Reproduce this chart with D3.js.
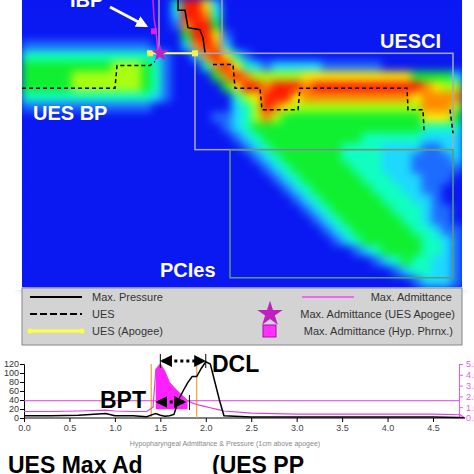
<!DOCTYPE html><html><head><meta charset="utf-8">
<script src="https://cdn.jsdelivr.net/npm/d3@7"></script>
<style>body{margin:0;background:#fff}svg{display:block}text{font-family:Arial,"Liberation Sans",sans-serif}</style></head><body>
<svg id="c" width="474" height="474"></svg>
<script>
// Heatmap levels (0 blue .. 8 red), 44 columns x 28 rows
const heatRows = [
"000000000000000388620",
"000000000000000288730",
"000000000000000178840",
"0000000000000000488610",
"1111111111111000278720",
"333333333333321002786310",
"44444444455543100037863212222211111100000000",
"44444555555543100004787555556666666666644442",
"44444555555543100000468878887888888888887655",
"33333333333332100000035688867777777777767777",
"11111111111110000000023587655555555555557775",
"00000000000000000001123575444444444444446664",
"00000000000000000000123444444444444444443333",
"00000000000000000000012344444444443333332222",
"00000000000000000000001234444444333322221122",
"00000000000000000000000123444444333322211112",
"00000000000000000000000012344444433322211111",
"00000000000000000000000001234444443332221110",
"00000000000000000000000000123444444333221100",
"00000000000000000000000000012344444433322100",
"00000000000000000000000000001234444443332110",
"00000000000000000000000000000123444444332110",
"00000000000000000000000000000012344444433211",
"00000000000000000000000000000001234444443321",
"00000000000000000000000000000000012344443321",
"00000000000000000000000000000000000123433221",
"00000000000000000000000000000000000001233221",
"00000000000000000000000000000000000000012221"];
const heatColors = ["#0a18f2","#1e6cff","#1ed8ff","#10ffc0","#10f030","#a8ff10","#ffee00","#ff8a00","#ff1a00"];
// overlay lines in heatmap units (col,row)
const maxPressure = [[15.6,0],[15.6,1],[16.3,1],[16.6,2.7],[17.8,2.9],[18.1,3.7],[18.3,5.1]];
const uesLeft = [[0,8.6],[9.3,8.6],[9.5,6.4],[12.8,6.4],[13.3,6.0]];
const uesRight = [[19.1,6.3],[21.1,6.3],[21.3,8.6],[23.8,8.6],[24,10.7],[27.6,10.7],[27.8,8.6],[38.5,8.6],[38.6,10.7],[40.1,10.7],[40.2,12.7]];
const uesRight2 = [[42.8,10.7],[43.1,13]];
const apogee = [[12.8,5.2],[17.3,5.2]];
const admitLine = [[13.1,0],[13.2,1.8],[13.4,3],[13.6,5.2]];
// bottom chart
const xs =   [0,0.3,0.6,0.9,1.0,1.2,1.35,1.42,1.45,1.5,1.55,1.6,1.65,1.7,1.75,1.8,1.85,1.9,1.95,2.0,2.05,2.1,2.15,2.2,2.5,3.0,3.5,4.0,4.5,4.8,4.85];
const press =[5,5,6,10,5,5,3,8,10,6,4,5,8,40,60,78,92,92,110,125,120,80,40,5,2,2,2,2,2,1,0];
const admit =[0.6,0.6,0.65,0.72,0.65,0.6,0.6,1.0,4.5,5.0,4.3,3.3,2.8,2.4,2.0,1.6,1.4,1.25,1.15,1.05,0.95,0.85,0.75,0.65,0.45,0.35,0.35,0.35,0.35,0.3,0];
const xTicks=[0,0.5,1,1.5,2,2.5,3,3.5,4,4.5], yTicks=[0,20,40,60,80,100,120], y2Ticks=[0,1,2,3,4,5];

const svg=d3.select("#c");
const defs=svg.append("defs");
const hx=d3.scaleLinear([0,44],[22,462]), hy=d3.scaleLinear([0,28],[0,287]);
const cells=[];
heatRows.forEach((r,ri)=>{const s=r.padEnd(44,"0");for(let c=0;c<44;c++)cells.push({c,r:ri,v:+s[c]});});
svg.append("rect").attr("x",22).attr("y",0).attr("width",440).attr("height",287).attr("fill",heatColors[0]);
const hg=svg.append("g").attr("style","filter:blur(4px)");
hg.selectAll("rect").data(cells).join("rect").attr("x",d=>hx(d.c)-0.5).attr("y",d=>hy(d.r)-0.5)
 .attr("width",hx(1)-hx(0)+1).attr("height",hy(1)-hy(0)+1).attr("fill",d=>heatColors[d.v]);
svg.append("rect").attr("x",0).attr("y",0).attr("width",22).attr("height",290).attr("fill","#fff");
svg.append("rect").attr("x",462).attr("y",0).attr("width",12).attr("height",290).attr("fill","#fff");
const L=d3.line().x(d=>hx(d[0])).y(d=>hy(d[1]));
// boxes
svg.append("line").attr("x1",159).attr("x2",159).attr("y1",0).attr("y2",hy(5.2)).attr("stroke","#c090d0").attr("stroke-width",1.5);
svg.append("line").attr("x1",222).attr("x2",222).attr("y1",0).attr("y2",hy(5.2)).attr("stroke","#a0a0b0").attr("stroke-width",1.5);
svg.append("rect").attr("x",hx(17.3)).attr("y",hy(5.2)).attr("width",hx(43.1)-hx(17.3)).attr("height",hy(14.6)-hy(5.2)).attr("fill","none").attr("stroke","#a8a8b8").attr("stroke-width",1.5);
svg.append("rect").attr("x",hx(20.8)).attr("y",hy(14.6)).attr("width",hx(43.1)-hx(20.8)).attr("height",hy(27.1)-hy(14.6)).attr("fill","none").attr("stroke","#5a9a80").attr("stroke-width",1.5);
svg.append("path").attr("d",L(maxPressure)).attr("fill","none").attr("stroke","#000").attr("stroke-width",1.5);
[uesLeft,uesRight,uesRight2].forEach(a=>svg.append("path").attr("d",L(a)).attr("fill","none").attr("stroke","#000").attr("stroke-width",1.5).attr("stroke-dasharray","4,3"));
svg.append("path").attr("d",L(apogee)).attr("stroke","#ffff60").attr("stroke-width",2);
apogee.forEach(p=>svg.append("rect").attr("x",hx(p[0])-3).attr("y",hy(p[1])-3).attr("width",6).attr("height",6).attr("fill","#f0f060"));
svg.append("path").attr("d",L(admitLine)).attr("fill","none").attr("stroke","#e020e0").attr("stroke-width",1.5);
svg.append("rect").attr("x",hx(13.2)-3).attr("y",hy(3.05)-3).attr("width",6).attr("height",6).attr("fill","#e020e0");
svg.append("path").attr("d",d3.symbol(d3.symbolStar,90)()).attr("transform",`translate(${hx(13.8)},${hy(5.2)})`).attr("fill","#c020c0");
// labels
const big=(t,x,y,sz,anchor)=>svg.append("text").attr("x",x).attr("y",y).attr("font-size",sz).attr("font-weight","bold").attr("text-anchor",anchor||"start").text(t);
big("IBP",70,7,20).attr("fill","#fff");
big("UESCI",380,48,20).attr("fill","#fff");
big("UES BP",33,120,20).attr("fill","#fff");
big("PCIes",160,277,20).attr("fill","#fff");
defs.append("marker").attr("id","wa").attr("viewBox","0 0 10 10").attr("refX",8).attr("refY",5).attr("markerWidth",4).attr("markerHeight",4).attr("orient","auto").append("path").attr("d","M0,0L10,5L0,10z").attr("fill","#fff");
svg.append("line").attr("x1",110).attr("y1",7).attr("x2",146).attr("y2",26).attr("stroke","#fff").attr("stroke-width",3).attr("marker-end","url(#wa)");
// legend
svg.append("rect").attr("x",22).attr("y",288).attr("width",440).attr("height",57).attr("fill","#d3d3d3").attr("stroke","#888");
const lt=(t,x,y,a)=>svg.append("text").attr("x",x).attr("y",y).attr("font-size",11).attr("fill","#333").attr("text-anchor",a||"start").text(t);
svg.append("line").attr("x1",30).attr("x2",82).attr("y1",297).attr("y2",297).attr("stroke","#000").attr("stroke-width",2);
svg.append("line").attr("x1",30).attr("x2",82).attr("y1",314).attr("y2",314).attr("stroke","#000").attr("stroke-width",2).attr("stroke-dasharray","7,3");
svg.append("line").attr("x1",30).attr("x2",82).attr("y1",331).attr("y2",331).attr("stroke","#ffff40").attr("stroke-width",3);
[30,82].forEach(x=>svg.append("circle").attr("cx",x).attr("cy",331).attr("r",2.5).attr("fill","#ffff40"));
lt("Max. Pressure",92,301);lt("UES",92,318);lt("UES (Apogee)",92,335);
svg.append("line").attr("x1",302).attr("x2",354).attr("y1",297).attr("y2",297).attr("stroke","#ff40ff").attr("stroke-width",1.5);
svg.append("path").attr("d",d3.symbol(d3.symbolStar,200)()).attr("transform","translate(270,314)").attr("fill","#c020c0");
svg.append("rect").attr("x",263).attr("y",325).attr("width",13).attr("height",12).attr("fill","#ff30ff").attr("stroke","#a010a0");
lt("Max. Admittance",452,301,"end");lt("Max. Admittance (UES Apogee)",455,318,"end");lt("Max. Admittance (Hyp. Phrnx.)",453,335,"end");
// bottom chart
const bx=d3.scaleLinear([0,4.5],[24,433]), by=d3.scaleLinear([0,120],[418,364]), by2=d3.scaleLinear([0,5],[418,364]);
const g=svg.append("g");
g.append("g").attr("transform","translate(0,418)").call(d3.axisBottom(bx).tickValues(xTicks).tickFormat(d3.format(".1f")).tickSize(4)).call(a=>{a.select(".domain").attr("d","M24,0H461");a.selectAll("text").attr("font-size",9).attr("fill","#444");});
g.append("g").attr("transform","translate(24,0)").call(d3.axisLeft(by).tickValues(yTicks).tickSize(4).tickPadding(1)).call(a=>a.selectAll("text").attr("font-size",9).attr("fill","#333"));
g.append("g").attr("transform","translate(459,0)").call(d3.axisRight(by2).tickValues(y2Ticks).tickSize(4)).call(a=>{a.selectAll("line,path").attr("stroke","#e060e0");a.selectAll("text").attr("font-size",9).attr("fill","#e060e0");});
svg.append("text").attr("x",225).attr("y",446).attr("font-size",7).attr("fill","#888").attr("text-anchor","middle").text("Hypopharyngeal Admittance & Pressure (1cm above apogee)");
const fillPts=xs.map((x,i)=>[x,admit[i]]).filter(d=>d[0]>=1.43&&d[0]<=1.8);
svg.append("path").attr("d",d3.area().x(d=>bx(d[0])).y0(by2(0.8)).y1(d=>by2(d[1]))(fillPts)).attr("fill","#ff20ff");
[1.4,1.9].forEach(v=>svg.append("line").attr("x1",bx(v)).attr("x2",bx(v)).attr("y1",364).attr("y2",418).attr("stroke","#f0a030").attr("stroke-width",1.2));
svg.append("line").attr("x1",24).attr("x2",459).attr("y1",by2(1.6)).attr("y2",by2(1.6)).attr("stroke","#e040e0").attr("stroke-width",1);
svg.append("path").attr("d",d3.line().x((d,i)=>bx(xs[i])).y(d=>by2(d))(admit)).attr("fill","none").attr("stroke","#e040e0").attr("stroke-width",1.2);
svg.append("path").attr("d",d3.line().x((d,i)=>bx(xs[i])).y(d=>by(d))(press)).attr("fill","none").attr("stroke","#000").attr("stroke-width",1.5);
defs.append("marker").attr("id","ba").attr("viewBox","0 0 10 10").attr("refX",8).attr("refY",5).attr("markerWidth",4).attr("markerHeight",4).attr("orient","auto-start-reverse").append("path").attr("d","M0,0L10,5L0,10z");
svg.append("line").attr("x1",bx(1.5)+2).attr("x2",bx(2.0)-2).attr("y1",361).attr("y2",361).attr("stroke","#000").attr("stroke-width",3).attr("stroke-dasharray","3,3").attr("marker-start","url(#ba)").attr("marker-end","url(#ba)");
svg.append("line").attr("x1",bx(1.45)+2).attr("x2",bx(1.78)-2).attr("y1",402).attr("y2",402).attr("stroke","#000").attr("stroke-width",3).attr("stroke-dasharray","3,3").attr("marker-start","url(#ba)").attr("marker-end","url(#ba)");
[[1.5,354,368],[2.0,354,368],[1.82,395,410]].forEach(t=>svg.append("line").attr("x1",bx(t[0])).attr("x2",bx(t[0])).attr("y1",t[1]).attr("y2",t[2]).attr("stroke","#000"));
big("DCL",212,372,23).attr("fill","#000");
big("BPT",100,408,23).attr("fill","#000");
big("UES Max Ad",8,473,23).attr("fill","#000");
big("(UES PP",212,473,23).attr("fill","#000");
</script></body></html>
